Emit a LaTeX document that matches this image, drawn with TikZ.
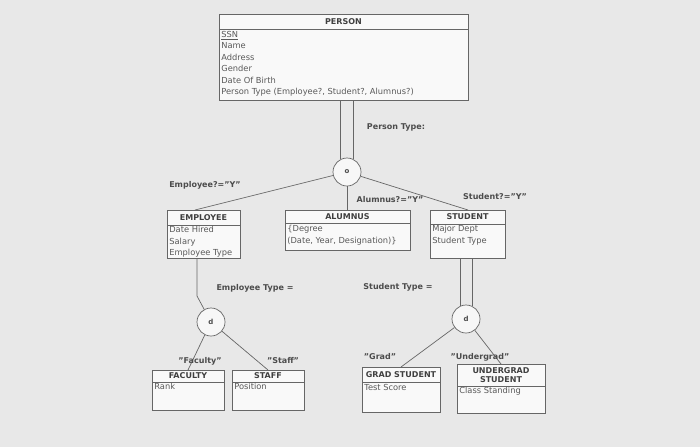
\documentclass[tikz,border=0pt]{standalone}
\usepackage{fontspec}
\setmainfont{DejaVu Sans}
\begin{document}
\begin{tikzpicture}[x=1pt,y=-1pt,line width=0.7pt,
 ln/.style={draw=black!60},
 bx/.style={draw=black!60,fill=white!70!black!8},
 hd/.style={font=\fontsize{8}{9}\selectfont\bfseries,text=black!75},
 attr/.style={font=\fontsize{8.3}{11.4}\selectfont,text=black!65,align=left,anchor=north west,inner sep=1pt},
 lb/.style={font=\fontsize{8}{9}\selectfont\bfseries,text=black!70},
 cir/.style={circle,draw=black!60,fill=white!60!black!8,minimum size=28pt,inner sep=0pt,font=\fontsize{7}{8}\selectfont\bfseries,text=black!70}]
\fill[black!9] (0,0) rectangle (700,447);
% PERSON
\draw[bx] (219,14) rectangle (468,100); \draw[ln] (219,29)--(468,29);
\node[hd] (ph) at (343.5,21.5) {PERSON};
\node[attr] (pa) at (220,30) {\underline{SSN}\\Name\\Address\\Gender\\Date Of Birth\\Person Type (Employee?, Student?, Alumnus?)};
\node[cir] (o) at (347,172) {o};
\draw[ln] (340,100)--(340,158.8) (353,100)--(353,158.8);
\node[lb] (pt) at (396,127) {Person Type:};
% subclasses
\draw[bx] (167,210) rectangle (240,258); \draw[ln] (167,225)--(240,225);
\node[hd] (eh) at (203.5,217.5) {EMPLOYEE};
\node[attr] (ea) at (168,225) {Date Hired\\Salary\\Employee Type};
\draw[bx] (285,210) rectangle (410,250); \draw[ln] (285,223)--(410,223);
\node[hd] (ah) at (347.5,216.5) {ALUMNUS};
\node[attr] (aa) at (286,224) {\{Degree\\(Date, Year, Designation)\}};
\draw[bx] (430,210) rectangle (505,258); \draw[ln] (430,224)--(505,224);
\node[hd] (sh) at (467.5,217) {STUDENT};
\node[attr] (sa) at (431,224) {Major Dept\\Student Type};
\coordinate (et) at (195,210); \coordinate (at2) at (347,210); \coordinate (st) at (468,210);
\draw[ln] (o)--(et); \draw[ln] (o)--(at2); \draw[ln] (o)--(st);
\node[lb] (l1) at (205,185) {Employee?="Y"};
\node[lb] (l2) at (390,200) {Alumnus?="Y"};
\node[lb] (l3) at (495,197) {Student?="Y"};
% employee specialization
\node[cir] (d1) at (211,322) {d};
\coordinate (eb) at (197,258);
\draw[ln] (eb)--(197,296)--(d1);
\node[lb] (l4) at (255,288) {Employee Type =};
\node[cir] (d2) at (466,319) {d};
\draw[ln] (460,258)--(460,305.5) (472,258)--(472,305.5);
\node[lb] (l5) at (398,287) {Student Type =};
% leaf boxes
\draw[bx] (152,370) rectangle (224,410); \draw[ln] (152,382)--(224,382);
\node[hd] (fh) at (188,376) {FACULTY};
\node[attr] (fa) at (153,382) {Rank};
\draw[bx] (232,370) rectangle (304,410); \draw[ln] (232,382)--(304,382);
\node[hd] (th) at (268,376) {STAFF};
\node[attr] (ta) at (233,382) {Position};
\draw[bx] (362,367) rectangle (440,412); \draw[ln] (362,382)--(440,382);
\node[hd] (gh) at (401,374.5) {GRAD STUDENT};
\node[attr] (ga) at (363,383) {Test Score};
\draw[bx] (457,364) rectangle (545,413); \draw[ln] (457,386)--(545,386);
\node[hd,align=center] (uh) at (501,375) {UNDERGRAD\\STUDENT};
\node[attr] (ua) at (458,386) {Class Standing};
\coordinate (ft) at (188,370); \coordinate (tt) at (268,370);
\coordinate (gt) at (401,367); \coordinate (ut) at (501,364);
\draw[ln] (d1)--(ft); \draw[ln] (d1)--(tt);
\draw[ln] (d2)--(gt); \draw[ln] (d2)--(ut);
\node[lb] (l6) at (200,361) {"Faculty"};
\node[lb] (l7) at (283,361) {"Staff"};
\node[lb] (l8) at (380,357) {"Grad"};
\node[lb] (l9) at (480,357) {"Undergrad"};
\end{tikzpicture}
\end{document}
